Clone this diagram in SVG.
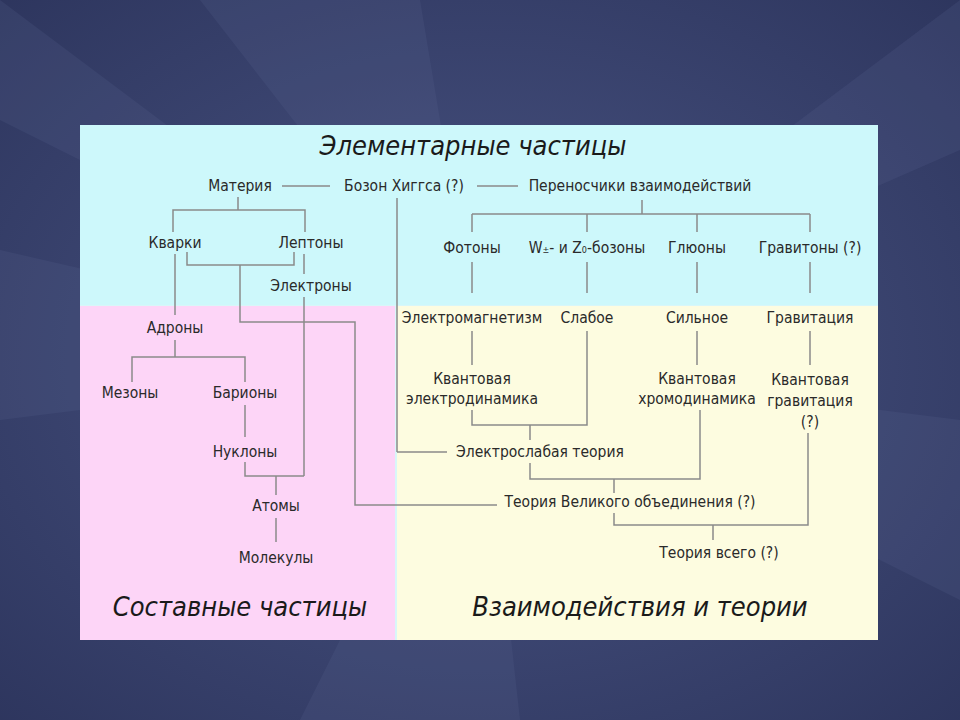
<svg xmlns="http://www.w3.org/2000/svg" width="960" height="720" viewBox="0 0 960 720">
<defs>
<radialGradient id="bg" cx="0.5" cy="0.5" r="0.75">
<stop offset="0" stop-color="#4a5584"/><stop offset="1" stop-color="#2c345c"/>
</radialGradient>
<style>
text{font-family:"DejaVu Sans Condensed","DejaVu Sans",sans-serif;font-size:15.5px;fill:#2a2a2a;text-anchor:middle}
.t{font-size:27px;font-style:italic;fill:#1a1a1a}
#c line,#c polyline{stroke:#8a8a8a;stroke-width:1.5;fill:none}
</style>
</defs>
<rect width="960" height="720" fill="url(#bg)"/>
<g fill="#5a6590" opacity="0.2">
<polygon points="0,0 480,360 0,120"/><polygon points="0,250 480,360 0,420"/><polygon points="960,0 480,360 960,150"/><polygon points="960,420 480,360 960,600"/><polygon points="300,720 480,360 520,720"/><polygon points="200,0 480,360 420,0"/>
</g>
<rect x="80" y="125" width="798" height="515" fill="#d9f6f8"/>
<rect x="80" y="125" width="798" height="180" fill="#cdf8fb"/>
<rect x="80" y="306" width="315" height="334" fill="#fdd5f7"/>
<rect x="397" y="306" width="481" height="334" fill="#fdfce0"/>
<g id="c">
<line x1="282" y1="186" x2="330" y2="186"/><line x1="477" y1="186" x2="518" y2="186"/>
<line x1="238" y1="197" x2="238" y2="210"/><polyline points="173,232 173,210 305,210 305,232"/>
<polyline points="187,252 187,265 294,265 294,252"/>
<polyline points="240,265 240,322 355,322 355,505 497,505"/>
<line x1="304" y1="254" x2="304" y2="274"/><line x1="304" y1="297" x2="304" y2="476"/>
<line x1="175" y1="254" x2="175" y2="315"/><line x1="175" y1="340" x2="175" y2="357"/>
<polyline points="132,382 132,357 245,357 245,382"/>
<line x1="245" y1="405" x2="245" y2="437"/><polyline points="245,462 245,476 304,476"/>
<line x1="276" y1="476" x2="276" y2="495"/><line x1="276" y1="518" x2="276" y2="542"/>
<line x1="397" y1="198" x2="397" y2="452"/><line x1="397" y1="452" x2="447" y2="452"/>
<line x1="642" y1="200" x2="642" y2="214"/><line x1="472" y1="214" x2="810" y2="214"/>
<line x1="472" y1="214" x2="472" y2="232"/><line x1="587" y1="214" x2="587" y2="232"/><line x1="697" y1="214" x2="697" y2="232"/><line x1="810" y1="214" x2="810" y2="232"/>
<line x1="472" y1="262" x2="472" y2="293"/><line x1="587" y1="262" x2="587" y2="293"/><line x1="697" y1="262" x2="697" y2="293"/><line x1="810" y1="262" x2="810" y2="293"/>
<line x1="472" y1="331" x2="472" y2="365"/><line x1="697" y1="331" x2="697" y2="365"/><line x1="810" y1="331" x2="810" y2="365"/>
<polyline points="472,410 472,425 587,425 587,331"/><line x1="530" y1="425" x2="530" y2="440"/>
<polyline points="530,463 530,479 700,479 700,410"/><line x1="614" y1="479" x2="614" y2="493"/>
<polyline points="614,513 614,525 808,525 808,433"/><line x1="713" y1="525" x2="713" y2="540"/>
</g>
<text class="t" x="473" y="155">Элементарные частицы</text>
<g id="n1"><text x="240" y="191">Материя</text></g>
<g id="n2"><text x="404" y="191">Бозон Хиггса (?)</text></g>
<g id="n3"><text x="640" y="191">Переносчики взаимодействий</text></g>
<g id="n4"><text x="175" y="248">Кварки</text></g>
<g id="n5"><text x="311" y="248">Лептоны</text></g>
<g id="n6"><text x="311" y="291">Электроны</text></g>
<g id="n7"><text x="175" y="333">Адроны</text></g>
<g id="n8"><text x="130" y="398">Мезоны</text></g>
<g id="n9"><text x="245" y="398">Барионы</text></g>
<g id="n10"><text x="245" y="457">Нуклоны</text></g>
<g id="n11"><text x="276" y="511">Атомы</text></g>
<g id="n12"><text x="276" y="563">Молекулы</text></g>
<g id="n13"><text x="472" y="253">Фотоны</text></g>
<g id="n14"><text x="587" y="253">W<tspan font-size="9">±</tspan>- и Z<tspan font-size="9">0</tspan>-бозоны</text></g>
<g id="n15"><text x="697" y="253">Глюоны</text></g>
<g id="n16"><text x="810" y="253">Гравитоны (?)</text></g>
<g id="n17"><text x="472" y="323">Электромагнетизм</text></g>
<g id="n18"><text x="587" y="323">Слабое</text></g>
<g id="n19"><text x="697" y="323">Сильное</text></g>
<g id="n20"><text x="810" y="323">Гравитация</text></g>
<g id="n21"><text x="472" y="384">Квантовая</text><text x="472" y="404">электродинамика</text></g>
<g id="n22"><text x="697" y="384">Квантовая</text><text x="697" y="404">хромодинамика</text></g>
<g id="n23"><text x="810" y="385">Квантовая</text><text x="810" y="406">гравитация</text><text x="810" y="427">(?)</text></g>
<g id="n24"><text x="540" y="457">Электрослабая теория</text></g>
<g id="n25"><text x="630" y="507">Теория Великого объединения (?)</text></g>
<g id="n26"><text x="719" y="558">Теория всего (?)</text></g>
<text class="t" x="240" y="616">Составные частицы</text>
<text class="t" x="640" y="616">Взаимодействия и теории</text>
</svg>
